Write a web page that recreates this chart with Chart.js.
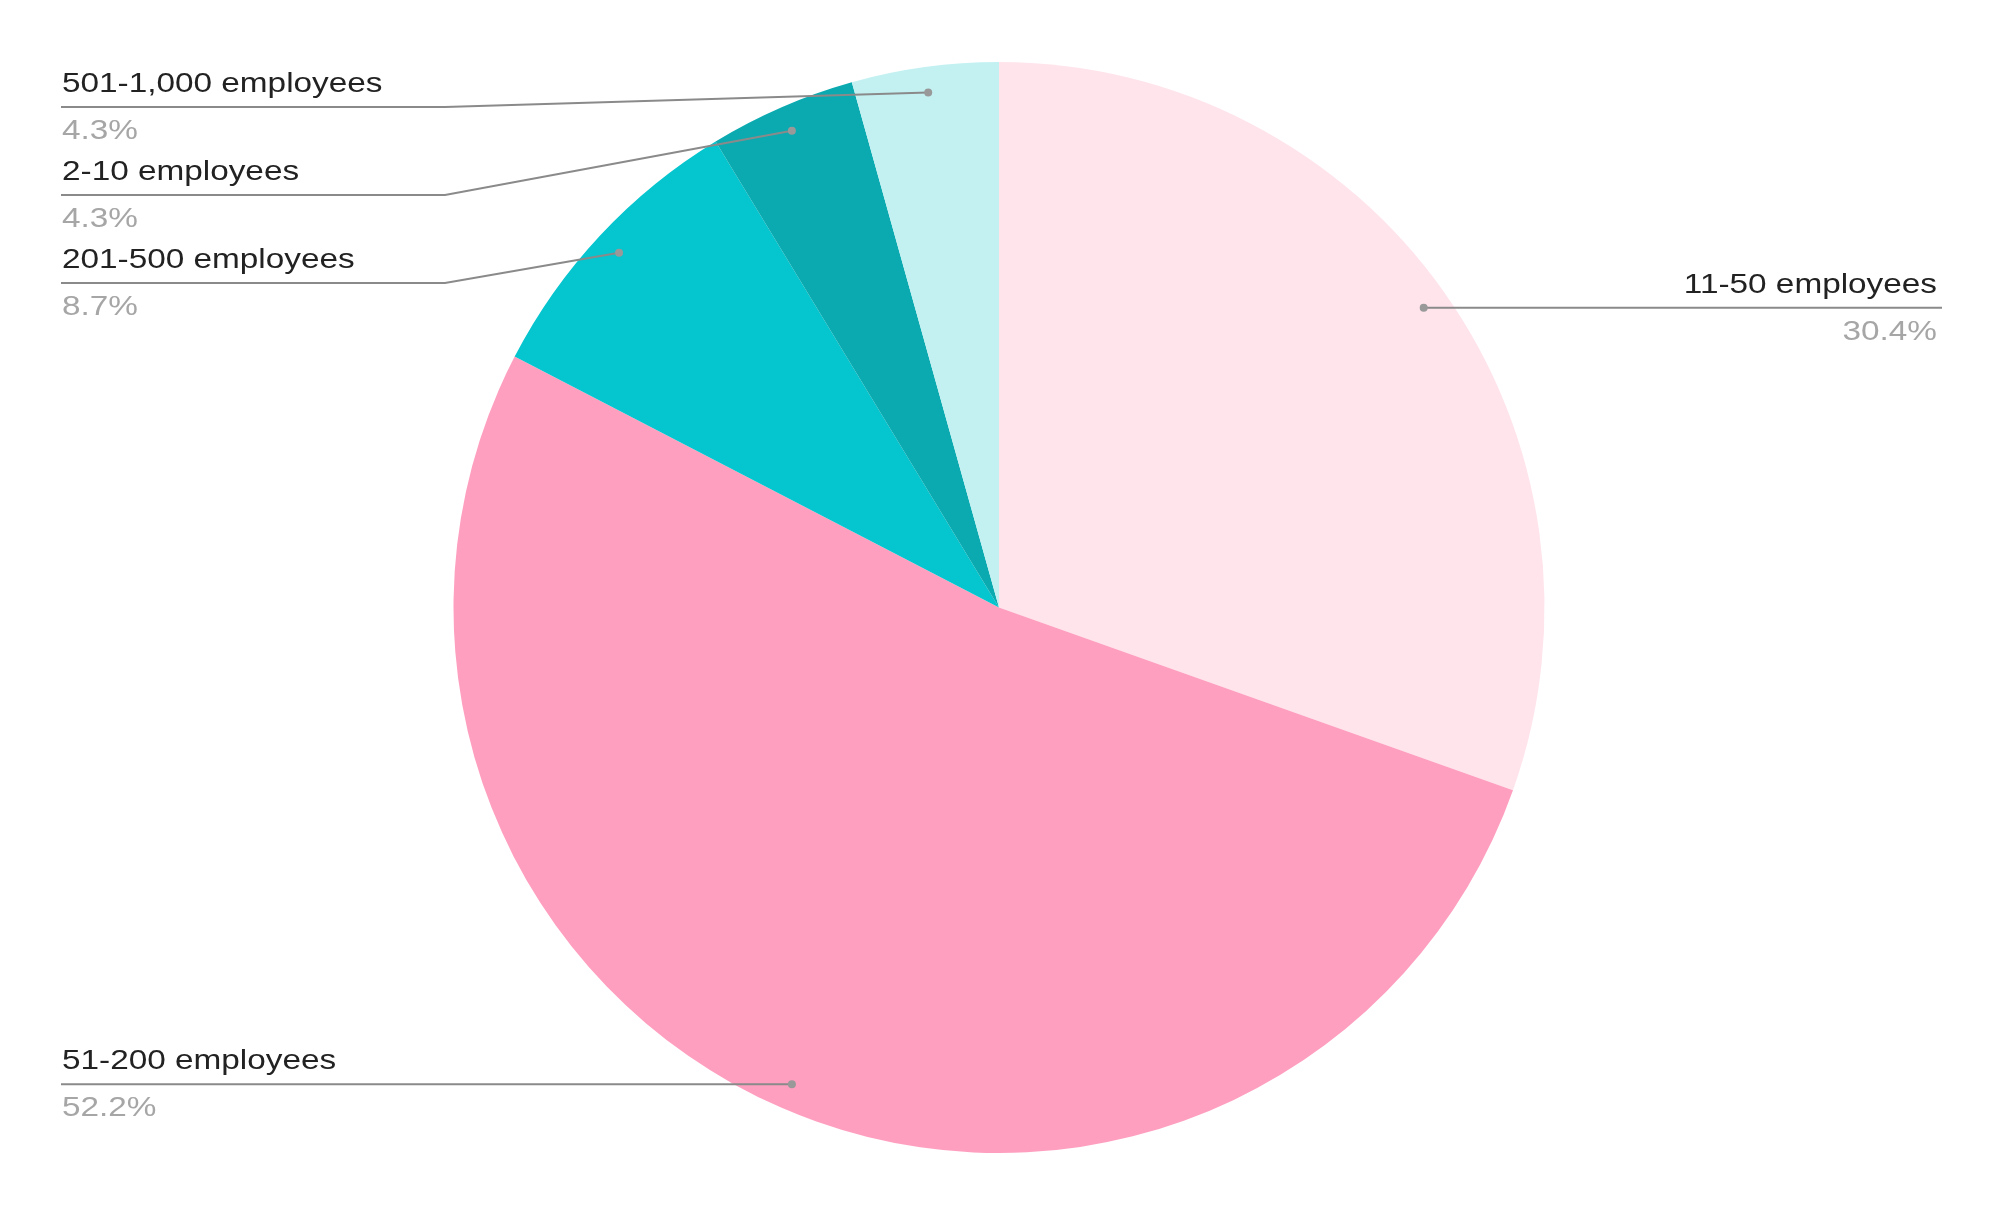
<!DOCTYPE html>
<html>
<head>
<meta charset="utf-8">
<script src="https://cdn.jsdelivr.net/npm/chart.js@4"></script>
<style>
  html, body { margin: 0; padding: 0; background: #fff; }
  #wrap { width: 2000px; height: 1215px; }
</style>
</head>
<body>
<div id="wrap"><canvas id="pie"></canvas></div>
<script>
// --- Data ---
const categories = ['11-50 employees', '51-200 employees', '201-500 employees', '2-10 employees', '501-1,000 employees'];
const counts = [7, 12, 2, 1, 1];
const percentLabels = ['30.4%', '52.2%', '8.7%', '4.3%', '4.3%'];
const sliceColors = ['#ffe4ec', '#ff9fbf', '#05c5ce', '#0aaab0', '#c3f1f2'];

// draw text stretched a bit wider, like the exported sheet chart
function wideText(ctx, text, x, y, align) {
    const sx = 1.19;
    const w = ctx.measureText(text).width * sx;
    ctx.save();
    ctx.translate(align === 'right' ? x - w : x, y);
    ctx.scale(sx, 1);
    ctx.textAlign = 'left';
    ctx.fillText(text, 0, 0);
    ctx.restore();
}

// --- Leader line labels ---
const leaderLabels = {
    id: 'leaderLabels',
    afterDatasetsDraw(chart) {
        const ctx = chart.ctx;
        const arcs = chart.getDatasetMeta(0).data;
        const leftX = 61, rightX = 1942, elbowLeft = 445, minY = 107, gap = 88;

        const items = arcs.map((arc, i) => {
            const p = arc.getProps(['x', 'y', 'startAngle', 'endAngle', 'outerRadius'], true);
            const mid = (p.startAngle + p.endAngle) / 2;
            const r = p.outerRadius * 0.953;
            return { i, dx: p.x + Math.cos(mid) * r, dy: p.y + Math.sin(mid) * r, left: Math.cos(mid) < 0 };
        });

        // stack labels on each side so they do not overlap
        ['left', 'right'].forEach(side => {
            const list = items.filter(it => (side === 'left') === it.left).sort((a, b) => a.dy - b.dy);
            let prev = -Infinity;
            list.forEach(it => {
                it.ly = Math.max(it.dy, minY, prev + gap);
                prev = it.ly;
            });
        });

        ctx.save();
        items.forEach(it => {
            ctx.strokeStyle = '#8a8a8a';
            ctx.lineWidth = 2;
            ctx.beginPath();
            ctx.moveTo(it.dx, it.dy);
            if (it.left) {
                ctx.lineTo(Math.min(elbowLeft, it.dx), it.ly);
                ctx.lineTo(leftX, it.ly);
            } else {
                ctx.lineTo(it.dx, it.ly);
                ctx.lineTo(rightX, it.ly);
            }
            ctx.stroke();

            ctx.fillStyle = '#999';
            ctx.beginPath();
            ctx.arc(it.dx, it.dy, 4, 0, Math.PI * 2);
            ctx.fill();

            ctx.font = '28px "Liberation Sans", Arial, sans-serif';
            ctx.textBaseline = 'alphabetic';
            const tx = it.left ? leftX + 1 : rightX - 5;
            const align = it.left ? 'left' : 'right';
            ctx.fillStyle = '#222';
            wideText(ctx, categories[it.i], tx, it.ly - 15, align);
            ctx.fillStyle = '#a6a6a6';
            wideText(ctx, percentLabels[it.i], tx, it.ly + 32, align);
        });
        ctx.restore();
    }
};

new Chart(document.getElementById('pie'), {
    type: 'pie',
    data: {
        labels: categories,
        datasets: [{
            data: counts,
            backgroundColor: sliceColors,
            borderWidth: 0
        }]
    },
    options: {
        responsive: true,
        maintainAspectRatio: false,
        animation: false,
        layout: { padding: { top: 62, bottom: 62, left: 0, right: 2 } },
        plugins: {
            legend: { display: false },
            tooltip: { enabled: false }
        }
    },
    plugins: [leaderLabels]
});
</script>
</body>
</html>
